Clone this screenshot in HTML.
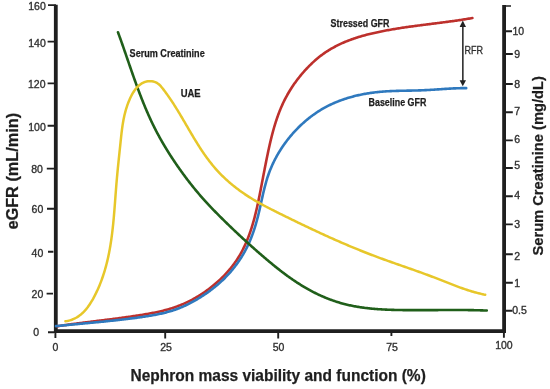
<!DOCTYPE html>
<html><head><meta charset="utf-8"><style>
html,body{margin:0;padding:0;background:#fff;width:550px;height:389px;overflow:hidden}
svg{display:block;filter:blur(0.3px)}
text{font-family:"Liberation Sans",Arial,sans-serif;fill:#2b2b2b}
.tl{font-size:10.5px;fill:#383838;stroke:#383838;stroke-width:0.35px}
.b{font-weight:bold;fill:#1e1e1e;stroke:#1e1e1e;stroke-width:0.25px}
</style></head><body>
<svg width="550" height="389" viewBox="0 0 550 389">
<rect width="550" height="389" fill="#fff"/>
<!-- axes -->
<g stroke="#1f1f1f" fill="none">
<path d="M55.8,4.7 V333 M54,331.1 H506 M504.1,4.9 V333" stroke-width="3.8" stroke-linecap="butt"/>
<path d="M48,5.1 H56 M504,6 H511" stroke-width="1.6"/>
<g stroke-width="1.9">
<path d="M47.6,41.6 H54 M47.6,83.4 H54 M47.6,125.7 H54 M46.8,168.6 H54 M47,208.8 H54 M48,251.7 H53.4 M46.6,293.6 H53 M48,332.2 H54"/>
<path d="M506,31.3 H512 M506,54 H512.8 M506,84 H512.8 M506,112.2 H512.8 M506,140.4 H512.8 M506,168 H512.8 M506,196.2 H512.8 M506,224.4 H512.8 M506,254.3 H512.8 M506,282.8 H512.8 M506,310.7 H512.4"/>
<path d="M55.4,333 V338 M165.2,333 V338.5 M278.2,333 V338.5 M391.4,333 V336 M503.9,333 V337.8"/>
</g>
</g>
<!-- curves -->
<g fill="none" stroke-linecap="round" stroke-linejoin="round">
<path d="M57.04,326.28 L58.19,326.11 L59.34,325.94 L60.49,325.77 L61.63,325.60 L62.78,325.43 L63.93,325.27 L65.09,325.10 L66.24,324.94 L67.39,324.78 L68.54,324.62 L69.69,324.46 L70.85,324.31 L72.00,324.15 L73.16,324.00 L74.31,323.84 L75.47,323.69 L76.62,323.54 L77.78,323.39 L78.94,323.24 L80.09,323.09 L81.25,322.94 L82.41,322.79 L83.57,322.65 L84.72,322.50 L85.88,322.36 L87.04,322.21 L88.20,322.07 L89.36,321.92 L90.52,321.78 L91.68,321.63 L92.84,321.49 L94.00,321.35 L95.16,321.20 L96.32,321.06 L97.48,320.91 L98.64,320.77 L99.80,320.63 L100.96,320.48 L102.12,320.34 L103.28,320.20 L104.45,320.05 L105.61,319.91 L106.77,319.76 L107.93,319.61 L109.09,319.47 L110.25,319.32 L111.41,319.17 L112.57,319.02 L113.73,318.87 L114.89,318.72 L116.05,318.57 L117.21,318.42 L118.37,318.27 L119.53,318.11 L120.69,317.96 L121.85,317.80 L123.01,317.64 L124.17,317.49 L125.33,317.33 L126.49,317.16 L127.64,317.00 L128.80,316.84 L129.96,316.67 L131.12,316.50 L132.27,316.33 L133.43,316.16 L134.58,315.99 L135.74,315.82 L136.89,315.64 L138.05,315.46 L139.20,315.28 L140.36,315.10 L141.51,314.92 L142.66,314.73 L143.81,314.54 L144.97,314.35 L146.12,314.15 L147.26,313.95 L148.41,313.75 L149.56,313.55 L150.71,313.33 L151.85,313.12 L152.99,312.90 L154.13,312.67 L155.27,312.44 L156.41,312.20 L157.55,311.96 L158.68,311.71 L159.81,311.46 L160.94,311.19 L162.07,310.92 L163.20,310.65 L164.32,310.36 L165.44,310.07 L166.56,309.77 L167.68,309.46 L168.79,309.14 L169.90,308.81 L171.01,308.48 L172.11,308.13 L173.21,307.77 L174.31,307.41 L175.41,307.03 L176.50,306.64 L177.59,306.24 L178.67,305.83 L179.75,305.41 L180.83,304.98 L181.90,304.54 L182.97,304.08 L184.04,303.62 L185.10,303.14 L186.16,302.66 L187.21,302.16 L188.26,301.66 L189.31,301.14 L190.35,300.61 L191.38,300.07 L192.41,299.53 L193.44,298.97 L194.46,298.40 L195.48,297.83 L196.49,297.24 L197.50,296.64 L198.50,296.04 L199.50,295.42 L200.49,294.80 L201.48,294.16 L202.46,293.52 L203.44,292.87 L204.41,292.21 L205.37,291.54 L206.33,290.86 L207.28,290.17 L208.23,289.47 L209.17,288.77 L210.11,288.05 L211.04,287.33 L211.96,286.60 L212.88,285.86 L213.79,285.12 L214.70,284.36 L215.59,283.60 L216.48,282.83 L217.37,282.05 L218.25,281.26 L219.12,280.47 L219.98,279.67 L220.83,278.86 L221.68,278.04 L222.52,277.21 L223.34,276.38 L224.17,275.54 L224.98,274.69 L225.78,273.84 L226.58,272.98 L227.36,272.11 L228.14,271.23 L228.90,270.35 L229.66,269.45 L230.41,268.56 L231.14,267.65 L231.87,266.74 L232.58,265.82 L233.29,264.90 L233.98,263.97 L234.66,263.03 L235.33,262.08 L235.99,261.13 L236.64,260.17 L237.28,259.21 L237.90,258.24 L238.51,257.26 L239.12,256.28 L239.70,255.29 L240.28,254.29 L240.85,253.29 L241.41,252.28 L241.95,251.27 L242.49,250.25 L243.01,249.23 L243.53,248.20 L244.03,247.17 L244.53,246.13 L245.01,245.09 L245.49,244.04 L245.95,242.99 L246.41,241.93 L246.86,240.87 L247.30,239.80 L247.73,238.73 L248.15,237.65 L248.56,236.57 L248.97,235.49 L249.37,234.40 L249.76,233.31 L250.14,232.22 L250.52,231.12 L250.88,230.02 L251.25,228.92 L251.60,227.81 L251.95,226.70 L252.29,225.58 L252.62,224.47 L252.95,223.35 L253.27,222.23 L253.59,221.10 L253.90,219.97 L254.21,218.84 L254.51,217.71 L254.80,216.58 L255.09,215.44 L255.38,214.30 L255.66,213.16 L255.93,212.02 L256.21,210.88 L256.48,209.74 L256.74,208.59 L257.00,207.44 L257.26,206.30 L257.51,205.15 L257.76,204.00 L258.01,202.85 L258.25,201.69 L258.49,200.54 L258.73,199.39 L258.97,198.24 L259.20,197.08 L259.44,195.93 L259.67,194.78 L259.90,193.62 L260.12,192.47 L260.35,191.31 L260.58,190.16 L260.80,189.01 L261.02,187.86 L261.25,186.71 L261.47,185.56 L261.69,184.41 L261.91,183.26 L262.13,182.11 L262.35,180.96 L262.57,179.81 L262.79,178.66 L263.01,177.51 L263.23,176.37 L263.45,175.22 L263.67,174.07 L263.89,172.93 L264.11,171.78 L264.34,170.64 L264.56,169.49 L264.78,168.35 L265.00,167.20 L265.23,166.06 L265.45,164.92 L265.68,163.77 L265.91,162.63 L266.14,161.49 L266.37,160.35 L266.60,159.21 L266.83,158.07 L267.06,156.93 L267.30,155.79 L267.54,154.65 L267.78,153.51 L268.02,152.37 L268.26,151.23 L268.50,150.09 L268.75,148.95 L269.00,147.81 L269.25,146.68 L269.51,145.54 L269.77,144.40 L270.03,143.27 L270.29,142.14 L270.56,141.00 L270.83,139.87 L271.10,138.74 L271.38,137.61 L271.66,136.48 L271.95,135.35 L272.24,134.22 L272.54,133.10 L272.84,131.97 L273.14,130.85 L273.45,129.73 L273.77,128.61 L274.09,127.50 L274.41,126.38 L274.75,125.27 L275.08,124.16 L275.43,123.05 L275.78,121.95 L276.14,120.84 L276.50,119.74 L276.87,118.64 L277.25,117.54 L277.63,116.45 L278.02,115.36 L278.42,114.27 L278.83,113.19 L279.24,112.11 L279.67,111.03 L280.10,109.95 L280.54,108.88 L280.99,107.81 L281.44,106.74 L281.91,105.68 L282.38,104.62 L282.87,103.57 L283.36,102.52 L283.86,101.47 L284.37,100.42 L284.90,99.38 L285.43,98.35 L285.97,97.32 L286.53,96.29 L287.09,95.27 L287.66,94.25 L288.25,93.23 L288.84,92.22 L289.44,91.22 L290.06,90.22 L290.68,89.22 L291.31,88.23 L291.95,87.25 L292.60,86.27 L293.26,85.29 L293.93,84.33 L294.61,83.36 L295.30,82.40 L295.99,81.45 L296.69,80.50 L297.40,79.56 L298.12,78.63 L298.85,77.70 L299.59,76.77 L300.33,75.86 L301.08,74.95 L301.84,74.04 L302.61,73.15 L303.38,72.25 L304.16,71.37 L304.95,70.49 L305.74,69.62 L306.55,68.76 L307.35,67.90 L308.17,67.05 L308.99,66.21 L309.82,65.38 L310.66,64.55 L311.50,63.74 L312.35,62.93 L313.21,62.13 L314.08,61.34 L314.95,60.56 L315.83,59.79 L316.71,59.03 L317.60,58.28 L318.50,57.55 L319.41,56.82 L320.33,56.10 L321.25,55.39 L322.18,54.70 L323.11,54.01 L324.05,53.34 L325.00,52.68 L325.96,52.04 L326.93,51.40 L327.90,50.78 L328.87,50.16 L329.86,49.56 L330.85,48.97 L331.85,48.40 L332.85,47.83 L333.86,47.27 L334.87,46.73 L335.89,46.19 L336.92,45.67 L337.95,45.15 L338.99,44.65 L340.03,44.15 L341.08,43.67 L342.13,43.19 L343.19,42.73 L344.25,42.27 L345.32,41.82 L346.39,41.38 L347.47,40.95 L348.55,40.53 L349.64,40.12 L350.72,39.72 L351.82,39.32 L352.91,38.93 L354.01,38.55 L355.12,38.18 L356.22,37.82 L357.34,37.46 L358.45,37.11 L359.57,36.77 L360.69,36.43 L361.81,36.11 L362.93,35.79 L364.06,35.47 L365.19,35.16 L366.32,34.86 L367.46,34.56 L368.59,34.27 L369.73,33.99 L370.87,33.71 L372.01,33.44 L373.16,33.17 L374.30,32.91 L375.45,32.65 L376.60,32.40 L377.74,32.15 L378.89,31.91 L380.04,31.67 L381.19,31.44 L382.34,31.21 L383.50,30.98 L384.65,30.76 L385.80,30.54 L386.95,30.33 L388.10,30.12 L389.26,29.91 L390.41,29.70 L391.56,29.50 L392.72,29.30 L393.87,29.11 L395.02,28.92 L396.17,28.73 L397.33,28.54 L398.48,28.36 L399.63,28.18 L400.79,28.00 L401.94,27.83 L403.10,27.65 L404.25,27.48 L405.40,27.31 L406.56,27.14 L407.71,26.98 L408.87,26.82 L410.02,26.66 L411.18,26.50 L412.33,26.34 L413.49,26.18 L414.64,26.03 L415.80,25.87 L416.95,25.72 L418.10,25.57 L419.26,25.42 L420.42,25.27 L421.57,25.12 L422.73,24.97 L423.88,24.82 L425.04,24.68 L426.19,24.53 L427.35,24.39 L428.50,24.24 L429.66,24.09 L430.81,23.95 L431.97,23.80 L433.12,23.66 L434.28,23.51 L435.43,23.37 L436.59,23.22 L437.74,23.08 L438.90,22.93 L440.05,22.78 L441.21,22.63 L442.37,22.48 L443.52,22.33 L444.68,22.18 L445.83,22.03 L446.99,21.88 L448.14,21.72 L449.30,21.57 L450.45,21.41 L451.61,21.25 L452.76,21.09 L453.92,20.93 L455.07,20.76 L456.23,20.60 L457.38,20.43 L458.54,20.26 L459.69,20.09 L460.84,19.91 L462.00,19.74 L463.15,19.56 L464.31,19.37 L465.46,19.19 L466.62,19.00 L467.77,18.81 L468.92,18.62 L470.08,18.42 L471.23,18.22 L472.38,18.02" stroke="#bd302c" stroke-width="2.6"/>
<path d="M56.01,326.13 L57.06,326.03 L58.11,325.92 L59.16,325.81 L60.21,325.71 L61.27,325.60 L62.32,325.50 L63.37,325.40 L64.42,325.29 L65.47,325.19 L66.52,325.09 L67.58,324.99 L68.63,324.89 L69.68,324.79 L70.73,324.69 L71.78,324.59 L72.84,324.49 L73.89,324.39 L74.94,324.29 L75.99,324.19 L77.04,324.09 L78.10,324.00 L79.15,323.90 L80.20,323.80 L81.25,323.70 L82.31,323.60 L83.36,323.50 L84.41,323.41 L85.46,323.31 L86.52,323.21 L87.57,323.11 L88.62,323.01 L89.67,322.91 L90.73,322.81 L91.78,322.71 L92.83,322.61 L93.89,322.51 L94.94,322.41 L95.99,322.31 L97.04,322.21 L98.10,322.11 L99.15,322.00 L100.20,321.90 L101.25,321.80 L102.31,321.69 L103.36,321.59 L104.41,321.48 L105.47,321.37 L106.52,321.27 L107.57,321.16 L108.62,321.05 L109.68,320.94 L110.73,320.83 L111.78,320.72 L112.83,320.61 L113.89,320.49 L114.94,320.38 L115.99,320.26 L117.04,320.15 L118.10,320.03 L119.15,319.91 L120.20,319.79 L121.25,319.67 L122.31,319.55 L123.36,319.43 L124.41,319.30 L125.46,319.18 L126.51,319.05 L127.57,318.92 L128.62,318.79 L129.67,318.66 L130.72,318.53 L131.77,318.39 L132.83,318.26 L133.88,318.12 L134.93,317.98 L135.98,317.84 L137.03,317.70 L138.08,317.55 L139.14,317.41 L140.19,317.26 L141.24,317.11 L142.29,316.96 L143.34,316.81 L144.39,316.65 L145.44,316.49 L146.49,316.33 L147.54,316.16 L148.58,316.00 L149.63,315.82 L150.68,315.65 L151.72,315.47 L152.77,315.28 L153.81,315.09 L154.85,314.90 L155.89,314.70 L156.93,314.50 L157.96,314.29 L159.00,314.07 L160.03,313.85 L161.06,313.62 L162.09,313.39 L163.11,313.15 L164.14,312.90 L165.16,312.64 L166.18,312.38 L167.20,312.11 L168.21,311.83 L169.22,311.55 L170.23,311.25 L171.23,310.95 L172.24,310.64 L173.23,310.32 L174.23,309.99 L175.22,309.65 L176.21,309.30 L177.20,308.94 L178.18,308.58 L179.16,308.20 L180.13,307.81 L181.10,307.41 L182.07,307.00 L183.03,306.59 L183.99,306.16 L184.95,305.72 L185.90,305.28 L186.85,304.83 L187.80,304.36 L188.74,303.89 L189.68,303.41 L190.61,302.93 L191.55,302.43 L192.47,301.93 L193.40,301.42 L194.32,300.90 L195.24,300.38 L196.16,299.85 L197.07,299.31 L197.98,298.76 L198.89,298.21 L199.79,297.65 L200.69,297.08 L201.59,296.51 L202.48,295.93 L203.37,295.35 L204.26,294.76 L205.14,294.16 L206.02,293.56 L206.90,292.95 L207.77,292.33 L208.63,291.71 L209.50,291.08 L210.35,290.45 L211.21,289.81 L212.05,289.16 L212.90,288.51 L213.74,287.85 L214.57,287.18 L215.40,286.51 L216.22,285.83 L217.03,285.15 L217.84,284.46 L218.65,283.76 L219.45,283.06 L220.24,282.35 L221.03,281.63 L221.81,280.91 L222.58,280.19 L223.35,279.45 L224.11,278.71 L224.86,277.97 L225.60,277.21 L226.34,276.45 L227.07,275.69 L227.80,274.92 L228.52,274.14 L229.22,273.36 L229.93,272.57 L230.62,271.78 L231.31,270.98 L231.99,270.17 L232.66,269.36 L233.33,268.54 L233.98,267.72 L234.63,266.89 L235.27,266.06 L235.91,265.22 L236.54,264.37 L237.15,263.53 L237.77,262.67 L238.37,261.81 L238.96,260.94 L239.55,260.07 L240.13,259.20 L240.70,258.32 L241.27,257.43 L241.82,256.54 L242.37,255.65 L242.91,254.75 L243.44,253.84 L243.97,252.93 L244.48,252.02 L244.99,251.10 L245.49,250.18 L245.98,249.25 L246.46,248.32 L246.93,247.38 L247.40,246.44 L247.86,245.50 L248.30,244.55 L248.74,243.59 L249.17,242.64 L249.60,241.67 L250.01,240.71 L250.42,239.74 L250.82,238.76 L251.21,237.79 L251.59,236.81 L251.96,235.82 L252.33,234.84 L252.69,233.85 L253.05,232.85 L253.39,231.86 L253.73,230.86 L254.07,229.85 L254.39,228.85 L254.71,227.84 L255.03,226.83 L255.34,225.82 L255.64,224.80 L255.94,223.78 L256.23,222.76 L256.52,221.74 L256.80,220.72 L257.08,219.69 L257.35,218.67 L257.62,217.64 L257.88,216.61 L258.14,215.58 L258.40,214.54 L258.65,213.51 L258.90,212.47 L259.14,211.44 L259.39,210.40 L259.62,209.36 L259.86,208.32 L260.10,207.29 L260.33,206.25 L260.56,205.21 L260.79,204.17 L261.02,203.13 L261.25,202.09 L261.48,201.05 L261.71,200.01 L261.93,198.97 L262.17,197.93 L262.40,196.90 L262.63,195.86 L262.87,194.82 L263.10,193.79 L263.34,192.76 L263.58,191.73 L263.83,190.70 L264.08,189.67 L264.33,188.64 L264.59,187.61 L264.85,186.59 L265.12,185.57 L265.39,184.55 L265.67,183.54 L265.96,182.52 L266.25,181.51 L266.54,180.50 L266.85,179.50 L267.16,178.49 L267.47,177.49 L267.80,176.50 L268.14,175.50 L268.48,174.51 L268.83,173.53 L269.19,172.54 L269.56,171.56 L269.94,170.59 L270.32,169.61 L270.72,168.65 L271.12,167.68 L271.53,166.72 L271.95,165.76 L272.38,164.81 L272.82,163.86 L273.26,162.91 L273.72,161.97 L274.18,161.03 L274.65,160.10 L275.13,159.17 L275.61,158.24 L276.11,157.32 L276.61,156.40 L277.12,155.48 L277.64,154.57 L278.16,153.66 L278.70,152.76 L279.24,151.86 L279.79,150.97 L280.34,150.08 L280.91,149.19 L281.48,148.31 L282.06,147.43 L282.65,146.56 L283.25,145.69 L283.85,144.82 L284.46,143.96 L285.08,143.11 L285.70,142.26 L286.34,141.41 L286.98,140.57 L287.62,139.73 L288.28,138.89 L288.94,138.07 L289.61,137.24 L290.29,136.42 L290.97,135.61 L291.66,134.80 L292.36,134.00 L293.06,133.20 L293.77,132.41 L294.49,131.62 L295.21,130.84 L295.94,130.07 L296.68,129.30 L297.42,128.53 L298.17,127.78 L298.93,127.03 L299.69,126.28 L300.46,125.54 L301.23,124.81 L302.01,124.09 L302.80,123.37 L303.59,122.66 L304.39,121.95 L305.20,121.26 L306.01,120.57 L306.82,119.88 L307.65,119.21 L308.47,118.54 L309.31,117.88 L310.14,117.23 L310.99,116.58 L311.84,115.94 L312.69,115.31 L313.55,114.69 L314.42,114.08 L315.29,113.47 L316.16,112.88 L317.04,112.29 L317.92,111.71 L318.81,111.14 L319.71,110.58 L320.61,110.02 L321.51,109.48 L322.42,108.94 L323.33,108.42 L324.25,107.90 L325.17,107.39 L326.10,106.90 L327.03,106.41 L327.96,105.92 L328.90,105.45 L329.85,104.99 L330.79,104.54 L331.74,104.09 L332.70,103.65 L333.66,103.22 L334.62,102.80 L335.59,102.39 L336.55,101.99 L337.53,101.59 L338.50,101.21 L339.48,100.83 L340.47,100.46 L341.45,100.10 L342.44,99.74 L343.43,99.40 L344.43,99.06 L345.43,98.73 L346.43,98.41 L347.43,98.09 L348.44,97.79 L349.45,97.49 L350.46,97.20 L351.47,96.91 L352.49,96.64 L353.51,96.37 L354.53,96.11 L355.55,95.85 L356.58,95.60 L357.61,95.36 L358.63,95.13 L359.67,94.91 L360.70,94.69 L361.73,94.48 L362.77,94.27 L363.81,94.07 L364.85,93.88 L365.89,93.70 L366.93,93.52 L367.98,93.35 L369.02,93.18 L370.07,93.02 L371.12,92.87 L372.16,92.73 L373.21,92.59 L374.26,92.45 L375.32,92.33 L376.37,92.21 L377.42,92.09 L378.47,91.98 L379.53,91.88 L380.58,91.78 L381.64,91.69 L382.69,91.61 L383.75,91.53 L384.80,91.45 L385.86,91.38 L386.92,91.32 L387.97,91.26 L389.03,91.20 L390.09,91.15 L391.15,91.10 L392.20,91.05 L393.26,91.01 L394.32,90.97 L395.38,90.93 L396.44,90.90 L397.50,90.87 L398.56,90.84 L399.62,90.81 L400.68,90.79 L401.74,90.76 L402.79,90.74 L403.85,90.72 L404.91,90.70 L405.97,90.68 L407.03,90.66 L408.09,90.64 L409.15,90.62 L410.21,90.60 L411.27,90.58 L412.33,90.56 L413.39,90.53 L414.45,90.51 L415.51,90.49 L416.56,90.46 L417.62,90.43 L418.68,90.40 L419.74,90.37 L420.80,90.33 L421.85,90.30 L422.91,90.26 L423.97,90.21 L425.02,90.17 L426.08,90.12 L427.14,90.06 L428.19,90.01 L429.25,89.95 L430.30,89.89 L431.36,89.82 L432.41,89.76 L433.46,89.69 L434.52,89.62 L435.57,89.55 L436.63,89.48 L437.68,89.41 L438.73,89.34 L439.79,89.26 L440.84,89.19 L441.90,89.12 L442.95,89.05 L444.00,88.98 L445.06,88.91 L446.11,88.84 L447.17,88.78 L448.22,88.71 L449.27,88.65 L450.33,88.59 L451.38,88.53 L452.44,88.47 L453.50,88.42 L454.55,88.37 L455.61,88.33 L456.66,88.29 L457.72,88.25 L458.78,88.21 L459.84,88.18 L460.89,88.16 L461.95,88.14 L463.01,88.13 L464.07,88.12 L465.13,88.11 L466.19,88.12" stroke="#2f79be" stroke-width="2.6"/>
<path d="M117.99,32.27 L118.34,33.23 L118.69,34.18 L119.04,35.14 L119.39,36.10 L119.73,37.06 L120.08,38.02 L120.42,38.98 L120.76,39.94 L121.11,40.91 L121.45,41.87 L121.79,42.83 L122.13,43.80 L122.46,44.76 L122.80,45.72 L123.14,46.69 L123.48,47.65 L123.81,48.62 L124.15,49.58 L124.48,50.55 L124.82,51.51 L125.15,52.48 L125.48,53.45 L125.82,54.41 L126.15,55.38 L126.48,56.35 L126.82,57.31 L127.15,58.28 L127.48,59.25 L127.82,60.22 L128.15,61.18 L128.48,62.15 L128.82,63.12 L129.15,64.09 L129.48,65.05 L129.82,66.02 L130.15,66.99 L130.49,67.95 L130.82,68.92 L131.16,69.89 L131.49,70.85 L131.83,71.82 L132.17,72.78 L132.51,73.75 L132.84,74.72 L133.18,75.68 L133.52,76.64 L133.87,77.61 L134.21,78.57 L134.55,79.54 L134.90,80.50 L135.24,81.46 L135.59,82.42 L135.93,83.39 L136.28,84.35 L136.63,85.31 L136.98,86.27 L137.34,87.23 L137.69,88.19 L138.05,89.14 L138.40,90.10 L138.76,91.06 L139.12,92.01 L139.48,92.97 L139.85,93.92 L140.21,94.88 L140.58,95.83 L140.95,96.78 L141.32,97.73 L141.69,98.68 L142.07,99.63 L142.44,100.58 L142.82,101.53 L143.20,102.48 L143.59,103.42 L143.97,104.37 L144.36,105.31 L144.75,106.26 L145.14,107.20 L145.53,108.14 L145.93,109.08 L146.33,110.02 L146.73,110.95 L147.14,111.89 L147.54,112.82 L147.95,113.76 L148.37,114.69 L148.78,115.62 L149.20,116.55 L149.62,117.48 L150.04,118.41 L150.47,119.33 L150.90,120.26 L151.33,121.18 L151.77,122.10 L152.21,123.02 L152.65,123.94 L153.10,124.86 L153.55,125.77 L154.00,126.69 L154.45,127.60 L154.91,128.51 L155.38,129.42 L155.84,130.33 L156.31,131.24 L156.78,132.14 L157.26,133.04 L157.74,133.94 L158.22,134.84 L158.71,135.74 L159.20,136.64 L159.69,137.53 L160.19,138.43 L160.69,139.32 L161.19,140.21 L161.70,141.10 L162.21,141.98 L162.72,142.87 L163.24,143.75 L163.75,144.63 L164.27,145.51 L164.80,146.39 L165.33,147.27 L165.86,148.15 L166.39,149.02 L166.92,149.89 L167.46,150.76 L168.00,151.63 L168.55,152.50 L169.09,153.36 L169.64,154.23 L170.20,155.09 L170.75,155.95 L171.31,156.81 L171.87,157.67 L172.43,158.53 L172.99,159.38 L173.56,160.23 L174.13,161.08 L174.70,161.93 L175.28,162.78 L175.85,163.63 L176.43,164.47 L177.01,165.32 L177.59,166.16 L178.18,167.00 L178.77,167.84 L179.36,168.68 L179.95,169.51 L180.54,170.35 L181.14,171.18 L181.74,172.01 L182.34,172.84 L182.94,173.66 L183.54,174.49 L184.15,175.31 L184.76,176.14 L185.37,176.96 L185.98,177.78 L186.60,178.59 L187.22,179.41 L187.84,180.22 L188.46,181.03 L189.08,181.84 L189.71,182.65 L190.34,183.45 L190.97,184.26 L191.60,185.06 L192.24,185.86 L192.88,186.65 L193.52,187.45 L194.16,188.24 L194.81,189.03 L195.45,189.82 L196.10,190.61 L196.76,191.39 L197.41,192.18 L198.07,192.96 L198.73,193.73 L199.39,194.51 L200.06,195.28 L200.73,196.05 L201.40,196.82 L202.07,197.59 L202.74,198.35 L203.42,199.11 L204.10,199.87 L204.78,200.63 L205.47,201.38 L206.16,202.14 L206.84,202.89 L207.54,203.64 L208.23,204.38 L208.92,205.13 L209.62,205.87 L210.32,206.61 L211.02,207.35 L211.73,208.09 L212.43,208.83 L213.14,209.56 L213.85,210.29 L214.56,211.02 L215.27,211.75 L215.98,212.48 L216.69,213.21 L217.41,213.94 L218.13,214.66 L218.85,215.38 L219.57,216.10 L220.29,216.82 L221.01,217.54 L221.73,218.26 L222.46,218.98 L223.18,219.70 L223.91,220.41 L224.63,221.13 L225.36,221.84 L226.09,222.55 L226.82,223.26 L227.55,223.97 L228.29,224.68 L229.02,225.39 L229.75,226.10 L230.49,226.81 L231.22,227.51 L231.96,228.22 L232.70,228.92 L233.44,229.62 L234.17,230.32 L234.92,231.03 L235.66,231.73 L236.40,232.43 L237.14,233.12 L237.89,233.82 L238.63,234.52 L239.38,235.21 L240.13,235.91 L240.87,236.60 L241.62,237.30 L242.37,237.99 L243.12,238.68 L243.88,239.37 L244.63,240.06 L245.38,240.75 L246.14,241.44 L246.90,242.12 L247.65,242.81 L248.41,243.49 L249.17,244.18 L249.93,244.86 L250.69,245.54 L251.45,246.23 L252.21,246.91 L252.98,247.59 L253.74,248.27 L254.51,248.95 L255.28,249.62 L256.04,250.30 L256.81,250.98 L257.58,251.65 L258.35,252.33 L259.12,253.00 L259.90,253.67 L260.67,254.34 L261.45,255.01 L262.22,255.68 L263.00,256.35 L263.78,257.02 L264.56,257.69 L265.34,258.35 L266.12,259.02 L266.90,259.68 L267.69,260.34 L268.47,261.00 L269.26,261.66 L270.05,262.32 L270.84,262.97 L271.63,263.62 L272.42,264.27 L273.21,264.92 L274.01,265.57 L274.81,266.22 L275.61,266.86 L276.41,267.50 L277.21,268.14 L278.01,268.77 L278.82,269.40 L279.63,270.04 L280.44,270.66 L281.25,271.29 L282.06,271.91 L282.88,272.53 L283.69,273.15 L284.51,273.76 L285.34,274.37 L286.16,274.98 L286.98,275.58 L287.81,276.18 L288.64,276.78 L289.47,277.37 L290.31,277.96 L291.15,278.55 L291.98,279.13 L292.83,279.71 L293.67,280.29 L294.52,280.86 L295.37,281.43 L296.22,281.99 L297.07,282.55 L297.93,283.10 L298.79,283.65 L299.65,284.20 L300.51,284.74 L301.38,285.28 L302.25,285.81 L303.12,286.34 L304.00,286.87 L304.87,287.38 L305.75,287.90 L306.64,288.41 L307.52,288.91 L308.41,289.41 L309.31,289.91 L310.20,290.39 L311.10,290.88 L312.00,291.36 L312.91,291.83 L313.82,292.29 L314.73,292.76 L315.64,293.21 L316.56,293.66 L317.48,294.11 L318.40,294.55 L319.32,294.98 L320.25,295.41 L321.18,295.83 L322.11,296.24 L323.05,296.65 L323.99,297.05 L324.93,297.45 L325.87,297.84 L326.81,298.22 L327.76,298.60 L328.71,298.97 L329.66,299.34 L330.62,299.70 L331.58,300.05 L332.53,300.39 L333.50,300.73 L334.46,301.06 L335.42,301.38 L336.39,301.70 L337.36,302.01 L338.33,302.31 L339.31,302.61 L340.28,302.90 L341.26,303.18 L342.24,303.46 L343.22,303.72 L344.20,303.98 L345.19,304.23 L346.18,304.48 L347.16,304.72 L348.15,304.95 L349.14,305.17 L350.14,305.39 L351.13,305.60 L352.13,305.81 L353.13,306.00 L354.12,306.20 L355.13,306.38 L356.13,306.56 L357.13,306.73 L358.13,306.90 L359.14,307.06 L360.15,307.22 L361.15,307.37 L362.16,307.52 L363.17,307.66 L364.19,307.79 L365.20,307.92 L366.21,308.04 L367.23,308.16 L368.24,308.28 L369.26,308.39 L370.27,308.49 L371.29,308.60 L372.31,308.69 L373.33,308.78 L374.35,308.87 L375.37,308.96 L376.39,309.04 L377.41,309.11 L378.43,309.19 L379.46,309.26 L380.48,309.32 L381.51,309.38 L382.53,309.44 L383.55,309.50 L384.58,309.55 L385.60,309.60 L386.63,309.65 L387.66,309.69 L388.68,309.73 L389.71,309.77 L390.73,309.80 L391.76,309.84 L392.79,309.87 L393.81,309.90 L394.84,309.93 L395.86,309.95 L396.89,309.98 L397.92,310.00 L398.94,310.02 L399.97,310.04 L400.99,310.05 L402.02,310.07 L403.04,310.08 L404.07,310.10 L405.09,310.11 L406.11,310.12 L407.14,310.13 L408.16,310.14 L409.19,310.14 L410.21,310.15 L411.23,310.16 L412.25,310.16 L413.28,310.16 L414.30,310.17 L415.32,310.17 L416.34,310.17 L417.37,310.17 L418.39,310.17 L419.41,310.17 L420.43,310.17 L421.45,310.16 L422.47,310.16 L423.49,310.16 L424.52,310.15 L425.54,310.15 L426.56,310.14 L427.58,310.14 L428.60,310.13 L429.62,310.13 L430.64,310.12 L431.66,310.12 L432.68,310.11 L433.70,310.10 L434.72,310.10 L435.74,310.09 L436.76,310.08 L437.78,310.08 L438.80,310.07 L439.82,310.06 L440.84,310.06 L441.86,310.05 L442.88,310.04 L443.90,310.04 L444.92,310.03 L445.94,310.03 L446.96,310.02 L447.98,310.02 L449.00,310.01 L450.02,310.01 L451.04,310.01 L452.06,310.01 L453.08,310.00 L454.10,310.00 L455.12,310.00 L456.14,310.00 L457.16,310.01 L458.18,310.01 L459.20,310.01 L460.22,310.01 L461.24,310.02 L462.26,310.03 L463.28,310.03 L464.30,310.04 L465.32,310.05 L466.34,310.06 L467.36,310.07 L468.38,310.08 L469.40,310.10 L470.42,310.11 L471.45,310.13 L472.47,310.15 L473.49,310.17 L474.51,310.19 L475.53,310.21 L476.56,310.23 L477.58,310.26 L478.60,310.29 L479.62,310.31 L480.65,310.34 L481.67,310.38 L482.69,310.41 L483.72,310.45 L484.74,310.48 L485.77,310.52 L486.79,310.56" stroke="#205f1a" stroke-width="2.6"/>
<path d="M65.46,321.20 L66.93,320.98 L68.36,320.70 L69.74,320.35 L71.09,319.95 L72.39,319.48 L73.66,318.96 L74.89,318.39 L76.08,317.76 L77.23,317.08 L78.35,316.36 L79.44,315.59 L80.50,314.77 L81.52,313.92 L82.51,313.02 L83.47,312.09 L84.41,311.12 L85.31,310.13 L86.19,309.10 L87.05,308.04 L87.88,306.95 L88.68,305.84 L89.46,304.71 L90.22,303.56 L90.96,302.39 L91.68,301.21 L92.38,300.01 L93.07,298.80 L93.73,297.58 L94.38,296.36 L95.02,295.13 L95.64,293.89 L96.25,292.65 L96.84,291.41 L97.42,290.17 L97.98,288.92 L98.53,287.66 L99.07,286.41 L99.60,285.15 L100.11,283.88 L100.61,282.61 L101.10,281.34 L101.58,280.07 L102.04,278.79 L102.49,277.51 L102.93,276.23 L103.36,274.94 L103.78,273.65 L104.19,272.36 L104.58,271.06 L104.97,269.76 L105.34,268.46 L105.71,267.15 L106.06,265.85 L106.41,264.54 L106.74,263.22 L107.07,261.91 L107.38,260.59 L107.69,259.27 L107.99,257.95 L108.28,256.62 L108.56,255.30 L108.83,253.97 L109.10,252.64 L109.35,251.30 L109.60,249.97 L109.85,248.63 L110.08,247.29 L110.31,245.95 L110.53,244.61 L110.74,243.26 L110.95,241.91 L111.15,240.57 L111.34,239.22 L111.53,237.86 L111.72,236.51 L111.89,235.16 L112.07,233.80 L112.23,232.44 L112.40,231.09 L112.55,229.73 L112.71,228.37 L112.85,227.00 L113.00,225.64 L113.14,224.28 L113.28,222.91 L113.41,221.55 L113.54,220.18 L113.67,218.81 L113.79,217.45 L113.91,216.08 L114.03,214.71 L114.14,213.34 L114.26,211.97 L114.37,210.60 L114.48,209.23 L114.59,207.86 L114.69,206.49 L114.80,205.12 L114.90,203.74 L115.01,202.37 L115.11,201.00 L115.21,199.63 L115.32,198.26 L115.42,196.89 L115.52,195.52 L115.62,194.14 L115.73,192.77 L115.83,191.40 L115.94,190.03 L116.04,188.66 L116.15,187.30 L116.26,185.93 L116.37,184.56 L116.48,183.19 L116.60,181.83 L116.72,180.46 L116.84,179.10 L116.96,177.74 L117.08,176.37 L117.21,175.01 L117.33,173.65 L117.46,172.29 L117.59,170.93 L117.72,169.57 L117.86,168.21 L117.99,166.86 L118.13,165.50 L118.27,164.15 L118.40,162.79 L118.54,161.44 L118.68,160.08 L118.82,158.73 L118.96,157.38 L119.10,156.03 L119.25,154.68 L119.39,153.33 L119.53,151.98 L119.67,150.63 L119.82,149.29 L119.96,147.94 L120.10,146.60 L120.24,145.25 L120.38,143.91 L120.52,142.56 L120.66,141.22 L120.80,139.88 L120.94,138.54 L121.09,137.20 L121.23,135.86 L121.38,134.52 L121.53,133.18 L121.69,131.85 L121.86,130.51 L122.03,129.17 L122.21,127.84 L122.39,126.50 L122.59,125.17 L122.80,123.83 L123.02,122.50 L123.25,121.17 L123.50,119.84 L123.76,118.50 L124.03,117.17 L124.33,115.84 L124.63,114.51 L124.96,113.18 L125.31,111.85 L125.67,110.53 L126.06,109.20 L126.47,107.87 L126.90,106.54 L127.35,105.22 L127.83,103.89 L128.33,102.56 L128.86,101.24 L129.41,99.91 L130.00,98.59 L130.61,97.28 L131.25,95.98 L131.93,94.69 L132.64,93.44 L133.38,92.21 L134.15,91.02 L134.96,89.87 L135.81,88.77 L136.69,87.72 L137.62,86.73 L138.58,85.80 L139.58,84.94 L140.63,84.15 L141.72,83.45 L142.85,82.83 L144.03,82.30 L145.26,81.87 L146.53,81.54 L147.84,81.32 L149.19,81.21 L150.55,81.21 L151.91,81.32 L153.25,81.55 L154.55,81.90 L155.80,82.37 L156.99,82.96 L158.10,83.68 L159.13,84.51 L160.09,85.43 L160.99,86.43 L161.86,87.47 L162.71,88.54 L163.54,89.62 L164.37,90.70 L165.19,91.79 L166.00,92.89 L166.80,93.99 L167.59,95.10 L168.38,96.22 L169.16,97.34 L169.93,98.46 L170.70,99.60 L171.46,100.73 L172.21,101.87 L172.96,103.02 L173.70,104.16 L174.44,105.32 L175.17,106.47 L175.89,107.63 L176.62,108.80 L177.33,109.96 L178.05,111.13 L178.76,112.30 L179.47,113.47 L180.17,114.65 L180.87,115.83 L181.57,117.01 L182.27,118.19 L182.97,119.37 L183.66,120.55 L184.35,121.74 L185.05,122.92 L185.74,124.11 L186.43,125.29 L187.12,126.48 L187.81,127.66 L188.50,128.85 L189.19,130.03 L189.89,131.21 L190.58,132.40 L191.28,133.58 L191.98,134.75 L192.68,135.93 L193.38,137.11 L194.08,138.28 L194.79,139.45 L195.50,140.62 L196.22,141.78 L196.94,142.95 L197.66,144.10 L198.39,145.26 L199.12,146.41 L199.86,147.56 L200.60,148.70 L201.35,149.84 L202.11,150.98 L202.87,152.10 L203.64,153.23 L204.41,154.35 L205.19,155.46 L205.98,156.57 L206.78,157.67 L207.58,158.77 L208.39,159.86 L209.21,160.94 L210.04,162.02 L210.88,163.09 L211.73,164.15 L212.59,165.20 L213.45,166.25 L214.33,167.29 L215.22,168.32 L216.12,169.34 L217.03,170.36 L217.95,171.36 L218.88,172.36 L219.82,173.35 L220.78,174.33 L221.74,175.30 L222.71,176.26 L223.70,177.21 L224.69,178.16 L225.69,179.09 L226.71,180.02 L227.73,180.94 L228.76,181.84 L229.80,182.74 L230.84,183.63 L231.90,184.51 L232.96,185.38 L234.03,186.25 L235.11,187.10 L236.19,187.94 L237.29,188.78 L238.38,189.60 L239.49,190.42 L240.60,191.23 L241.72,192.02 L242.84,192.81 L243.97,193.59 L245.11,194.36 L246.25,195.12 L247.39,195.87 L248.54,196.61 L249.70,197.34 L250.86,198.06 L252.02,198.77 L253.19,199.48 L254.36,200.17 L255.53,200.86 L256.71,201.54 L257.89,202.21 L259.08,202.88 L260.27,203.54 L261.46,204.19 L262.65,204.84 L263.85,205.48 L265.05,206.12 L266.25,206.75 L267.46,207.38 L268.67,208.01 L269.87,208.63 L271.09,209.25 L272.30,209.86 L273.51,210.48 L274.73,211.09 L275.94,211.69 L277.16,212.30 L278.38,212.91 L279.60,213.51 L280.82,214.12 L282.04,214.72 L283.26,215.32 L284.48,215.93 L285.70,216.53 L286.93,217.13 L288.15,217.73 L289.38,218.33 L290.60,218.93 L291.83,219.53 L293.05,220.13 L294.28,220.73 L295.51,221.33 L296.74,221.92 L297.96,222.52 L299.19,223.11 L300.42,223.70 L301.66,224.30 L302.89,224.89 L304.12,225.48 L305.35,226.07 L306.59,226.66 L307.82,227.24 L309.06,227.83 L310.29,228.41 L311.53,229.00 L312.77,229.58 L314.01,230.16 L315.24,230.74 L316.48,231.32 L317.72,231.89 L318.97,232.47 L320.21,233.04 L321.45,233.62 L322.69,234.19 L323.94,234.76 L325.18,235.32 L326.43,235.89 L327.68,236.46 L328.92,237.02 L330.17,237.58 L331.42,238.14 L332.67,238.70 L333.92,239.25 L335.17,239.81 L336.42,240.36 L337.68,240.91 L338.93,241.46 L340.18,242.01 L341.44,242.55 L342.69,243.10 L343.95,243.64 L345.21,244.18 L346.47,244.71 L347.73,245.25 L348.99,245.78 L350.25,246.31 L351.51,246.84 L352.77,247.37 L354.04,247.89 L355.30,248.41 L356.57,248.93 L357.83,249.45 L359.10,249.96 L360.37,250.47 L361.64,250.98 L362.91,251.49 L364.18,251.99 L365.45,252.50 L366.72,253.00 L367.99,253.49 L369.27,253.99 L370.54,254.48 L371.82,254.97 L373.09,255.45 L374.37,255.94 L375.65,256.42 L376.93,256.90 L378.21,257.37 L379.49,257.84 L380.77,258.31 L382.06,258.78 L383.34,259.25 L384.62,259.71 L385.91,260.17 L387.19,260.63 L388.48,261.09 L389.77,261.55 L391.05,262.01 L392.34,262.46 L393.63,262.91 L394.92,263.37 L396.20,263.82 L397.49,264.27 L398.78,264.72 L400.07,265.17 L401.36,265.62 L402.65,266.07 L403.94,266.52 L405.23,266.97 L406.51,267.42 L407.80,267.87 L409.09,268.33 L410.38,268.78 L411.67,269.23 L412.96,269.69 L414.24,270.14 L415.53,270.60 L416.82,271.06 L418.10,271.51 L419.39,271.98 L420.67,272.44 L421.96,272.90 L423.24,273.37 L424.52,273.84 L425.81,274.31 L427.09,274.78 L428.37,275.26 L429.65,275.74 L430.93,276.22 L432.21,276.71 L433.48,277.19 L434.76,277.68 L436.04,278.18 L437.31,278.68 L438.58,279.18 L439.86,279.68 L441.13,280.18 L442.40,280.68 L443.67,281.19 L444.94,281.69 L446.22,282.19 L447.49,282.70 L448.76,283.20 L450.04,283.70 L451.31,284.19 L452.59,284.69 L453.86,285.18 L455.14,285.66 L456.42,286.15 L457.70,286.62 L458.98,287.10 L460.26,287.56 L461.55,288.02 L462.84,288.48 L464.13,288.92 L465.42,289.36 L466.71,289.79 L468.01,290.22 L469.31,290.63 L470.62,291.04 L471.92,291.43 L473.23,291.81 L474.55,292.19 L475.86,292.55 L477.18,292.90 L478.51,293.24 L479.83,293.56 L481.17,293.87 L482.50,294.17 L483.84,294.46 L485.19,294.72" stroke="#e7c72a" stroke-width="2.5"/>
</g>
<!-- RFR arrow -->
<g fill="#222" stroke="none">
<rect x="462.1" y="25" width="1.5" height="57"/>
<path d="M462.8,20.5 L466,27 L459.6,27 Z"/>
<path d="M462.8,86.3 L466,80.2 L459.6,80.2 Z"/>
</g>
<!-- tick labels left -->
<g class="tl" text-anchor="end">
<text x="45.8" y="10.3">160</text>
<text x="45.8" y="46.5">140</text>
<text x="45.5" y="87.6">120</text>
<text x="45.8" y="130.8">100</text>
<text x="42.9" y="173.2">80</text>
<text x="43.3" y="212.8">60</text>
<text x="43.3" y="256.7">40</text>
<text x="43.3" y="298.2">20</text>
<text x="39.2" y="336.4">0</text>
</g>
<!-- tick labels right -->
<g class="tl" text-anchor="start">
<text x="512.4" y="34.6">10</text>
<text x="514.2" y="57.9">9</text>
<text x="514.2" y="87.5">8</text>
<text x="514.2" y="114.5">7</text>
<text x="514.2" y="143.3">6</text>
<text x="514.2" y="168.6">5</text>
<text x="514.2" y="198.6">4</text>
<text x="514.2" y="227.9">3</text>
<text x="514.2" y="259.7">2</text>
<text x="514.2" y="287">1</text>
<text x="512.2" y="314.3">0.5</text>
</g>
<!-- tick labels bottom -->
<g class="tl" text-anchor="middle">
<text x="55.3" y="350.6">0</text>
<text x="166" y="350.9">25</text>
<text x="278.5" y="350.9">50</text>
<text x="392.1" y="350.7">75</text>
<text x="503.9" y="349">100</text>
</g>
<!-- axis titles -->
<text class="b" x="130.5" y="380.6" font-size="15.8" textLength="295.3" lengthAdjust="spacingAndGlyphs">Nephron mass viability and function (%)</text>
<text class="b" font-size="15.6" transform="translate(18.3,229.6) rotate(-90)" textLength="116.8" lengthAdjust="spacingAndGlyphs">eGFR (mL/min)</text>
<text class="b" font-size="15.5" transform="translate(542.9,255.5) rotate(-90)" textLength="179.3" lengthAdjust="spacingAndGlyphs">Serum Creatinine (mg/dL)</text>
<!-- curve labels -->
<text class="b" x="129.6" y="56.8" font-size="10.3" textLength="75.1" lengthAdjust="spacingAndGlyphs">Serum Creatinine</text>
<text class="b" x="180.7" y="97.3" font-size="11" textLength="20" lengthAdjust="spacingAndGlyphs">UAE</text>
<text class="b" x="330.6" y="26.6" font-size="10.4" textLength="58.8" lengthAdjust="spacingAndGlyphs">Stressed GFR</text>
<text class="b" x="368.6" y="105.8" font-size="10.4" textLength="57.7" lengthAdjust="spacingAndGlyphs">Baseline GFR</text>
<text x="464.4" y="54.2" font-size="10.3" fill="#333" stroke="#333" stroke-width="0.3" textLength="18.6" lengthAdjust="spacingAndGlyphs">RFR</text>
</svg>
</body></html>
